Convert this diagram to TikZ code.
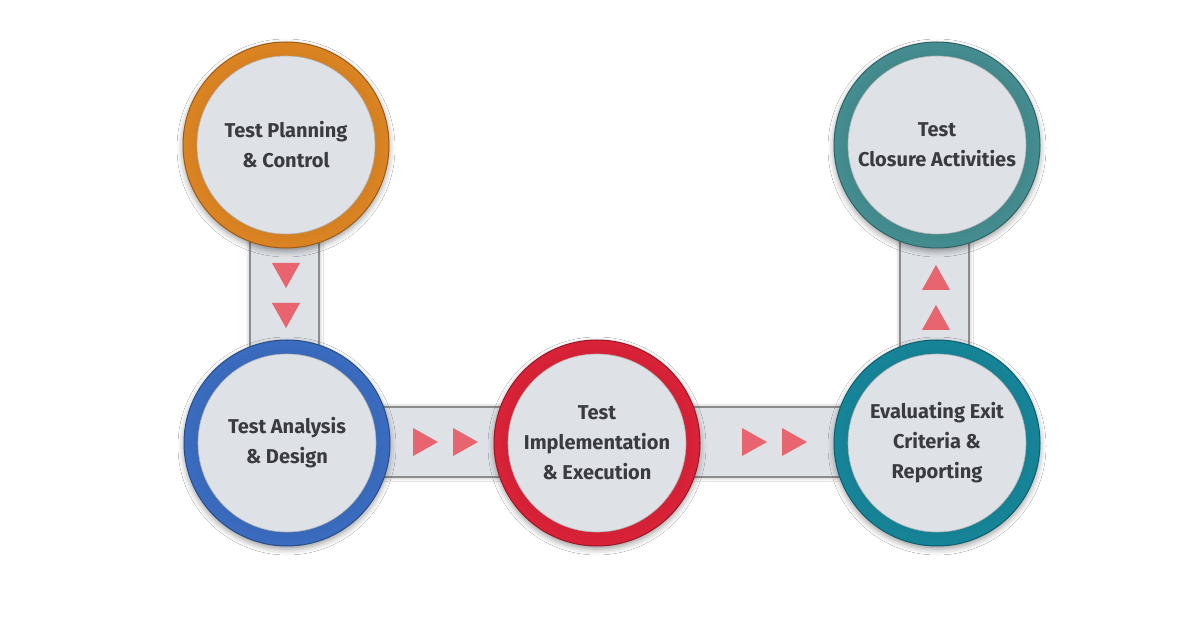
\documentclass[tikz,border=0pt]{standalone}
\usepackage{fontspec}
\setmainfont{Fira Sans}
\usetikzlibrary{shadows.blur}
\definecolor{inner}{HTML}{DEE1E6}
\definecolor{tri}{HTML}{E8646E}
\definecolor{txt}{HTML}{3A3B40}
\definecolor{corange}{HTML}{DC8422}
\definecolor{cblue}{HTML}{3A6CC0}
\definecolor{cred}{HTML}{DA2238}
\definecolor{cteal}{HTML}{168599}
\definecolor{cgrey}{HTML}{448D90}
\tikzset{
 bar/.style={fill=inner,draw=black!45,line width=1.5pt,blur shadow={shadow xshift=0pt,shadow yshift=0pt,shadow blur radius=4pt}},
 ring/.style={circle,minimum size=206pt,inner sep=0pt,draw=#1!70!black,line width=1pt,
   shading=radial,inner color=#1!75!black,outer color=#1,
   blur shadow={shadow xshift=0pt,shadow yshift=-3pt,shadow blur radius=6pt}},
 core/.style={circle,minimum size=178pt,inner sep=0pt,fill=inner,draw=black!30,line width=0.6pt,
   text=txt,font=\bfseries\fontsize{20}{30}\selectfont,align=center},
 arr/.style={fill=tri,draw=none}
}
\begin{document}
\begin{tikzpicture}[x=1pt,y=-1pt]
\useasboundingbox[fill=white] (0,0) rectangle (1200,628);
\coordinate (pc) at (286,145);
\coordinate (ac) at (287,443);
\coordinate (ic) at (597,443);
\coordinate (ec) at (937,443);
\coordinate (cc) at (937,145);
\draw[bar] (250,230) rectangle (319,360);
\draw[bar] (900,230) rectangle (969,360);
\draw[bar] (370,407) rectangle (860,477);
\fill[arr] (272,263) -- (300,263) -- (286,288) -- cycle;
\fill[arr] (272,303) -- (300,303) -- (286,328) -- cycle;
\fill[arr] (922,290) -- (950,290) -- (936,265) -- cycle;
\fill[arr] (922,330) -- (950,330) -- (936,305) -- cycle;
\fill[arr] (413,428) -- (413,456) -- (438,442) -- cycle;
\fill[arr] (453,428) -- (453,456) -- (478,442) -- cycle;
\fill[arr] (742,428) -- (742,456) -- (767,442) -- cycle;
\fill[arr] (782,428) -- (782,456) -- (807,442) -- cycle;
\node[ring=corange] (pr) at (pc) {};
\node[ring=cblue] (ar) at (ac) {};
\node[ring=cred] (ir) at (ic) {};
\node[ring=cteal] (er) at (ec) {};
\node[ring=cgrey] (cr) at (cc) {};
\node[core] (p) at (pc) {Test Planning\\\& Control};
\node[core] (a) at (ac) {Test Analysis\\\& Design};
\node[core] (i) at (ic) {Test\\Implementation\\\& Execution};
\node[core] (e) at (ec) {Evaluating Exit\\Criteria \&\\Reporting};
\node[core] (c) at (cc) {Test\\Closure Activities};
\end{tikzpicture}
\end{document}
